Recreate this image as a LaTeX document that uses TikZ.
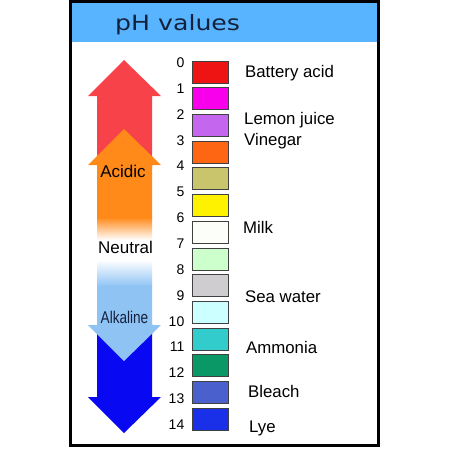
\documentclass[tikz,border=0pt]{standalone}
\usepackage{fontspec}
\setmainfont{Liberation Sans}
\newfontfamily\titlefont{DejaVu Sans}
\definecolor{hdrblue}{HTML}{58B4FF}
\definecolor{arrred}{HTML}{F8424A}
\definecolor{arrorange}{HTML}{FF8A1A}
\definecolor{arrlblue}{HTML}{8EC3F4}
\definecolor{arrdblue}{HTML}{0808F2}
\definecolor{navy}{HTML}{14213D}
\definecolor{c0}{HTML}{EE1414}
\definecolor{c1}{HTML}{F800EC}
\definecolor{c2}{HTML}{C466EE}
\definecolor{c3}{HTML}{FF6614}
\definecolor{c4}{HTML}{C9C56C}
\definecolor{c5}{HTML}{FFF200}
\definecolor{c6}{HTML}{FBFEF9}
\definecolor{c7}{HTML}{CCFFCC}
\definecolor{c8}{HTML}{D0CDD0}
\definecolor{c9}{HTML}{CCFFFF}
\definecolor{c10}{HTML}{33CCCC}
\definecolor{c11}{HTML}{0A9966}
\definecolor{c12}{HTML}{4A60CC}
\definecolor{c13}{HTML}{1A30E8}
\begin{document}
\begin{tikzpicture}[x=1pt,y=-1pt,
  swatch/.style={draw=black!75,line width=0.8pt,minimum width=36pt,minimum height=22pt,inner sep=0pt},
  num/.style={anchor=base east,inner sep=0pt,font=\fontsize{14}{14}\selectfont},
  lbl/.style={anchor=base west,inner sep=0pt,font=\fontsize{16.8}{17}\selectfont},
  arrlbl/.style={anchor=base,inner sep=0pt,font=\fontsize{17}{17}\selectfont}]
\useasboundingbox (0,0) rectangle (450,450);
\fill[white] (0,0) rectangle (450,450);
% header
\fill[hdrblue] (70,1.5) rectangle (378,42);
\node[anchor=base west,inner sep=0pt,text=navy,font=\titlefont\fontsize{21}{21}\selectfont] (title) at (115,30.5) {\scalebox{1.2}[1]{pH values}};
% red arrow up
\fill[arrred] (124,60) -- (161,96) -- (152,96) -- (152,166) -- (97,166) -- (97,96) -- (88,96) -- cycle;
% orange arrow up
\fill[arrorange] (124,129) -- (161,165) -- (152,165) -- (152,218) -- (97,218) -- (97,165) -- (88,165) -- cycle;
\shade[top color=arrorange,bottom color=white] (97,217.5) rectangle (152,240);
% dark blue arrow down
\fill[arrdblue] (97,324) -- (152,324) -- (152,397) -- (161,397) -- (124,433) -- (88,397) -- (97,397) -- cycle;
% light blue arrow down
\shade[top color=white,bottom color=arrlblue] (97,260) rectangle (152,286.5);
\fill[arrlblue] (97,286) -- (152,286) -- (152,325) -- (161,325) -- (124,361) -- (88,325) -- (97,325) -- cycle;
% arrow labels
\node[arrlbl] (acidic) at (123,177) {Acidic};
\node[arrlbl] (neutral) at (125.5,253) {Neutral};
\node[arrlbl,text=navy] (alkaline) at (124.5,323) {\scalebox{0.8}[1]{Alkaline}};
% swatches and numbers
\foreach \i in {0,...,13} {
  \node[swatch,fill=c\i] (s\i) at (210,{72+26.7*\i}) {};
}
\foreach \i in {0,...,14} {
  \node[num] (n\i) at (184.5,{67.5+25.86*\i}) {\i};
}
% labels
\node[lbl] (l0) at (245,77) {Battery acid};
\node[lbl] (l2) at (244,124) {Lemon juice};
\node[lbl] (l3) at (244,145) {Vinegar};
\node[lbl] (l6) at (243,233) {Milk};
\node[lbl] (l9) at (245,302) {Sea water};
\node[lbl] (l11) at (246,353) {Ammonia};
\node[lbl] (l12) at (248,397) {Bleach};
\node[lbl] (l13) at (249,432) {Lye};
% frame
\draw[line width=3pt] (70,1.5) rectangle (378,445);
\end{tikzpicture}
\end{document}
